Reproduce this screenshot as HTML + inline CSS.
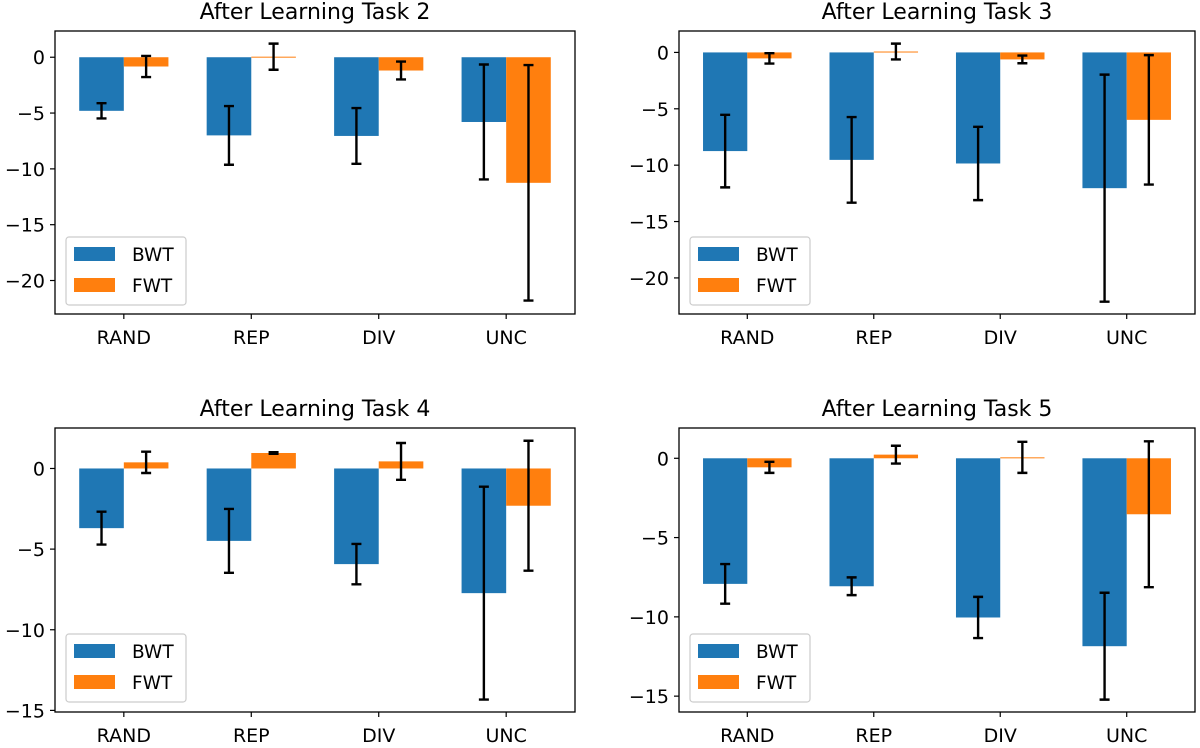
<!DOCTYPE html>
<html><head><meta charset="utf-8"><style>
body{margin:0;background:#fff;}
svg text{font-family:"DejaVu Sans","Liberation Sans",sans-serif;fill:#000;}
</style></head><body>
<svg id="fig" width="1200" height="743" viewBox="0 0 1200 743" xmlns="http://www.w3.org/2000/svg"></svg>
<script>
const categories = ["RAND","REP","DIV","UNC"];
const titles = ["After Learning Task 2","After Learning Task 3","After Learning Task 4","After Learning Task 5"];
const bwt2 = [-4.8,-7.0,-7.05,-5.8];
const bwt2Err = [0.68,2.63,2.5,5.15];
const fwt2 = [-0.83,0.05,-1.19,-11.25];
const fwt2Err = [0.95,1.17,0.8,10.55];
const bwt3 = [-8.75,-9.53,-9.85,-12.04];
const bwt3Err = [3.22,3.8,3.25,10.07];
const fwt3 = [-0.53,0.08,-0.62,-5.98];
const fwt3Err = [0.46,0.7,0.34,5.74];
const bwt4 = [-3.7,-4.49,-5.93,-7.73];
const bwt4Err = [1.02,1.98,1.25,6.6];
const fwt4 = [0.38,0.96,0.44,-2.31];
const fwt4Err = [0.66,0.05,1.14,4.03];
const bwt5 = [-7.92,-8.07,-10.04,-11.85];
const bwt5Err = [1.25,0.56,1.3,3.37];
const fwt5 = [-0.57,0.23,0.06,-3.53];
const fwt5Err = [0.35,0.56,0.98,4.6];
const yTicks2 = [0,-5,-10,-15,-20];
const yTicks3 = [0,-5,-10,-15,-20];
const yTicks4 = [0,-5,-10,-15];
const yTicks5 = [0,-5,-10,-15];
const yLim2 = [-23.0,2.35];
const yLim3 = [-23.2,1.9];
const yLim4 = [-15.1,2.51];
const yLim5 = [-16.0,1.91];

const NS="http://www.w3.org/2000/svg";
const svg=document.getElementById('fig');
function mk(tag,attrs,parent){const e=document.createElementNS(NS,tag);for(const k in attrs)e.setAttribute(k,attrs[k]);(parent||svg).appendChild(e);return e;}

const panels=[
 {box:[55,31,575,314],title:titles[0],b:bwt2,be:bwt2Err,f:fwt2,fe:fwt2Err,ticks:yTicks2,lim:yLim2,leg:[66,237]},
 {box:[679,31,1195,314],title:titles[1],b:bwt3,be:bwt3Err,f:fwt3,fe:fwt3Err,ticks:yTicks3,lim:yLim3,leg:[690,237]},
 {box:[55,428,575,712],title:titles[2],b:bwt4,be:bwt4Err,f:fwt4,fe:fwt4Err,ticks:yTicks4,lim:yLim4,leg:[66,634]},
 {box:[679,428,1195,712],title:titles[3],b:bwt5,be:bwt5Err,f:fwt5,fe:fwt5Err,ticks:yTicks5,lim:yLim5,leg:[690,634]}
];
const xLim=[-0.54,3.54], barW=0.35;
panels.forEach((p,pi)=>{
  const [x0,y0,x1,y1]=p.box;
  const g=mk('g',{});
  
  
  const xs=v=>x0+(v-xLim[0])/(xLim[1]-xLim[0])*(x1-x0);
  const ys=v=>y0+(p.lim[1]-v)/(p.lim[1]-p.lim[0])*(y1-y0);
  const t=mk('text',{x:(x0+x1)/2,y:y0-12,'text-anchor':'middle','font-size':22},g);t.textContent=p.title;
  
  
  const series=[[p.b,p.be,'#1f77b4',-barW/2,'bwt'],[p.f,p.fe,'#ff7f0e',barW/2,'fwt']];
  series.forEach(([vals,errs,col,off,nm])=>{
    vals.forEach((v,i)=>{
      const c=i+off, xa=xs(c-barW/2), xb=xs(c+barW/2);
      const ya=ys(Math.max(v,0)), yb=ys(Math.min(v,0));
      const r=mk('rect',{x:xa,y:ya,width:xb-xa,height:Math.max(yb-ya,1),fill:col},g);
      
      
    });
  });
  series.forEach(([vals,errs,col,off,nm])=>{
    vals.forEach((v,i)=>{
      const cx=xs(i+off), ya=ys(v+errs[i]), yb=ys(v-errs[i]);
      const e=mk('path',{d:`M${cx},${ya}V${yb}M${cx-5},${ya}H${cx+5}M${cx-5},${yb}H${cx+5}`,stroke:'#000','stroke-width':2.4,fill:'none'},g);
      
      
    });
  });
  const fr=mk('rect',{x:x0,y:y0,width:x1-x0,height:y1-y0,fill:'none',stroke:'#000','stroke-width':1.3},g);
  
  
  p.ticks.forEach(v=>{
    const y=ys(v);
    mk('line',{x1:x0-5,x2:x0,y1:y,y2:y,stroke:'#000','stroke-width':1.2},g);
    const tx=mk('text',{x:x0-10,y:y+7,'text-anchor':'end','font-size':19},g);
    tx.textContent=v<0?'\u2212'+Math.abs(v):String(v);
    
    
  });
  categories.forEach((c,i)=>{
    const x=xs(i);
    mk('line',{x1:x,x2:x,y1:y1,y2:y1+5,stroke:'#000','stroke-width':1.2},g);
    const tx=mk('text',{x:x,y:y1+30,'text-anchor':'middle','font-size':19},g);
    tx.textContent=c;
    
    
  });
  const [lx,ly]=p.leg;
  const lg=mk('g',{},g);
  
  
  mk('rect',{x:lx,y:ly,width:120,height:68,rx:3,fill:'#fff','fill-opacity':0.8,stroke:'#ccc','stroke-width':1.2},lg);
  [['BWT','#1f77b4'],['FWT','#ff7f0e']].forEach(([n,c],k)=>{
    const e=mk('g',{},lg);
    
    
    mk('rect',{x:lx+8,y:ly+10+k*31,width:41,height:14,fill:c},e);
    const tx=mk('text',{x:lx+66,y:ly+24+k*31,'font-size':18.5},e);tx.textContent=n;
  });
});
</script>
</body></html>
